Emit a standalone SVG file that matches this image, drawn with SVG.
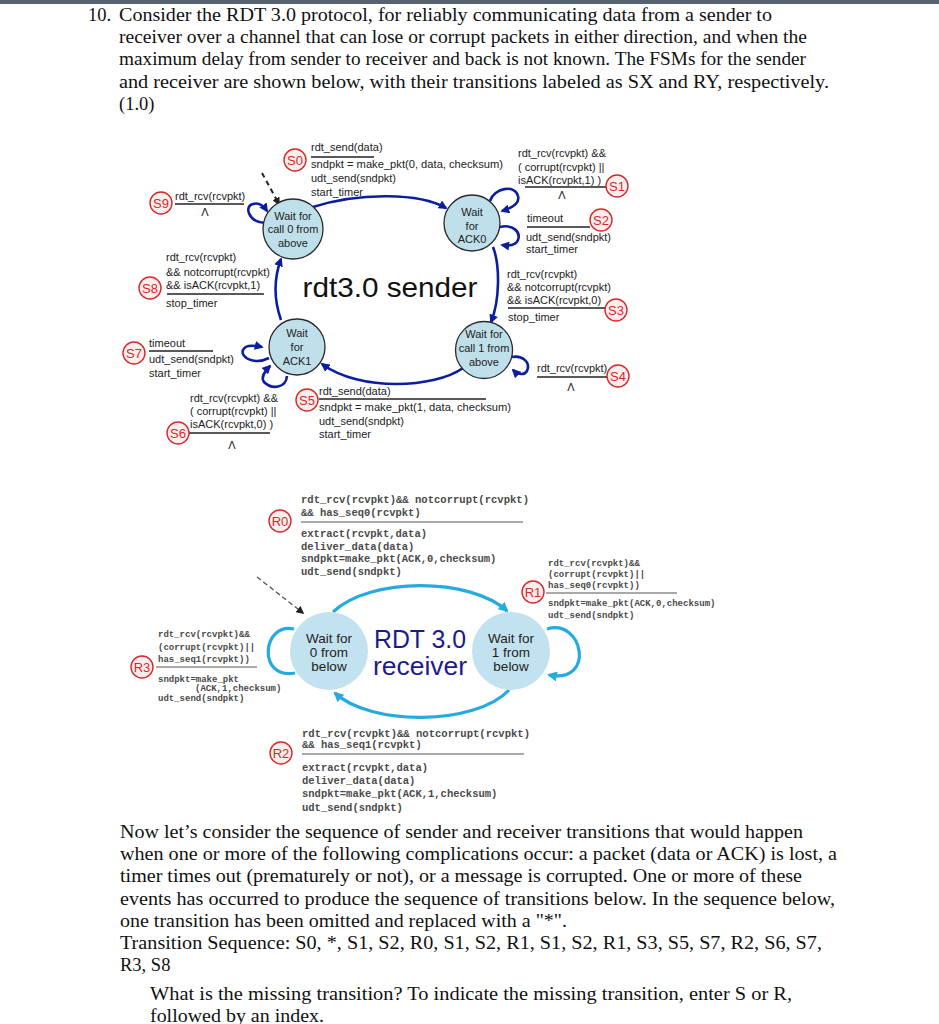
<svg xmlns="http://www.w3.org/2000/svg" width="939" height="1024" viewBox="0 0 939 1024">
<defs>
<style>
.q{font-family:"Liberation Serif","Times New Roman",serif;font-size:18.5px;fill:#111}
.s{font-family:"Liberation Sans",Arial,sans-serif;font-size:11px;fill:#222}
.sl{font-family:"Liberation Sans",Arial,sans-serif;font-size:11px;fill:#222;text-anchor:middle}
.rl{font-family:"Liberation Sans",Arial,sans-serif;font-size:13.5px;fill:#222;text-anchor:middle}
.m{font-family:"Liberation Mono","Courier New",monospace;font-size:10.5px;fill:#4a4a4a;font-weight:bold}
.m9{font-family:"Liberation Mono","Courier New",monospace;font-size:9px;fill:#4a4a4a;font-weight:bold}
.bc{fill:#fdeeee;stroke:#d42a2a;stroke-width:1.4}
.bt{font-family:"Liberation Sans",Arial,sans-serif;font-size:13px;fill:#d42a2a;text-anchor:middle}
.st{fill:#bfe0ea;stroke:#2b2b2b;stroke-width:1.3}
.rs{fill:#c3e2ef}
.sa{fill:none;stroke:#0c1ea0;stroke-width:2.6;marker-end:url(#ab)}
.ra{fill:none;stroke:#27a9e1;stroke-width:3.2;marker-end:url(#ac)}
.rn{fill:none;stroke:#27a9e1;stroke-width:3.2}
.ln{stroke:#222;stroke-width:1.3}
.lg{stroke:#555;stroke-width:1.2}
</style>
<marker id="ab" viewBox="0 0 10 10" refX="8" refY="5" markerWidth="9" markerHeight="9" markerUnits="userSpaceOnUse" orient="auto"><path d="M0,0 L10,5 L0,10 z" fill="#0c1ea0"/></marker>
<marker id="ac" viewBox="0 0 10 10" refX="8" refY="5" markerWidth="10" markerHeight="10" markerUnits="userSpaceOnUse" orient="auto"><path d="M0,0 L10,5 L0,10 z" fill="#27a9e1"/></marker>
<marker id="ad" viewBox="0 0 10 10" refX="8" refY="5" markerWidth="8" markerHeight="8" markerUnits="userSpaceOnUse" orient="auto"><path d="M0,0 L10,5 L0,10 z" fill="#222"/></marker>
</defs>
<rect x="0" y="0" width="939" height="1024" fill="#ffffff"/>
<rect x="0" y="0" width="939" height="4" fill="#566270"/>

<g id="question-top">
<text class="q" x="88" y="21">10.</text>
<text class="q" x="119" y="21" textLength="653" lengthAdjust="spacingAndGlyphs">Consider the RDT 3.0 protocol, for reliably communicating data from a sender to</text>
<text class="q" x="119" y="43" textLength="688" lengthAdjust="spacingAndGlyphs">receiver over a channel that can lose or corrupt packets in either direction, and when the</text>
<text class="q" x="119" y="65" textLength="687" lengthAdjust="spacingAndGlyphs">maximum delay from sender to receiver and back is not known. The FSMs for the sender</text>
<text class="q" x="119" y="88" textLength="710" lengthAdjust="spacingAndGlyphs">and receiver are shown below, with their transitions labeled as SX and RY, respectively.</text>
<text class="q" x="119" y="110">(1.0)</text>
</g>

<g id="connectors">
<path d="M262,173 L279,204" fill="none" stroke="#222" stroke-width="2" stroke-dasharray="5,4" marker-end="url(#ad)"/>
<path class="sa" d="M313,207 C360,192 420,193 446,208"/>
<path class="sa" d="M493,247 C500,265 500,300 491,322"/>
<path class="sa" d="M463,368 C435,388 360,392 322,364"/>
<path class="sa" d="M281,320 C274,300 274,278 281,259"/>
<path class="sa" d="M265,223 C248,222 244,206 253,204 C259,202 263,205 267,211"/>
<path class="sa" d="M490,201 C494,188 515,184 518,196 C520,203 512,208 502,211"/>
<path class="sa" d="M500,227 C513,224 521,232 518,240 C516,245 509,246 502,245"/>
<path class="sa" d="M512,357 C522,355 531,362 527,371 C524,376 517,374 513,370"/>
<path class="sa" d="M269,358 C255,365 240,358 243,350 C245,345 253,345 262,347"/>
<path class="sa" d="M287,376 C286,388 272,390 264,382 C261,378 264,372 270,366"/>
<path d="M257,577 L303,613" fill="none" stroke="#555" stroke-width="1.3" stroke-dasharray="5,3" marker-end="url(#ad)"/>
<path class="ra" d="M333,612 C370,577 470,577 507,611"/>
<path class="ra" d="M509,690 C475,726 370,726 335,693"/>
<path class="rn" d="M294,629 C262,622 257,680 295,673"/>
<path class="ra" d="M547,629 C583,618 596,684 549,675"/>
</g>

<g id="sender-states">
<g id="call0"><circle class="st" cx="293" cy="229" r="30"/><text class="sl" x="293" y="220">Wait for</text><text class="sl" x="293" y="233">call 0 from</text><text class="sl" x="293" y="247">above</text></g>
<g id="ack0"><circle class="st" cx="472" cy="223" r="28"/><text class="sl" x="472" y="216">Wait</text><text class="sl" x="472" y="230">for</text><text class="sl" x="472" y="243">ACK0</text></g>
<g id="call1"><circle class="st" cx="484" cy="350" r="28.5"/><text class="sl" x="484" y="338">Wait for</text><text class="sl" x="484" y="352">call 1 from</text><text class="sl" x="484" y="366">above</text></g>
<g id="ack1"><circle class="st" cx="297" cy="347" r="28"/><text class="sl" x="297" y="337">Wait</text><text class="sl" x="297" y="351">for</text><text class="sl" x="297" y="365">ACK1</text></g>
<text x="390" y="297" font-family="'Liberation Sans',Arial,sans-serif" font-size="28" fill="#111" text-anchor="middle" textLength="175" lengthAdjust="spacingAndGlyphs">rdt3.0 sender</text>
</g>

<g id="S0">
<circle class="bc" cx="295" cy="160" r="11"/><text class="bt" x="295" y="165">S0</text>
<text class="s" x="311" y="151">rdt_send(data)</text>
<line class="ln" x1="311" y1="157" x2="374" y2="157"/>
<text class="s" x="311" y="168" textLength="192" lengthAdjust="spacingAndGlyphs">sndpkt = make_pkt(0, data, checksum)</text>
<text class="s" x="311" y="182">udt_send(sndpkt)</text>
<text class="s" x="311" y="196">start_timer</text>
</g>
<g id="S1">
<text class="s" x="518" y="157">rdt_rcv(rcvpkt) &amp;&amp;</text>
<text class="s" x="518" y="171">( corrupt(rcvpkt) ||</text>
<text class="s" x="518" y="184">isACK(rcvpkt,1) )</text>
<line class="ln" x1="525" y1="187" x2="606" y2="187"/>
<text class="s" x="562" y="199" text-anchor="middle">Λ</text>
<circle class="bc" cx="617" cy="186" r="11"/><text class="bt" x="617" y="191">S1</text>
</g>
<g id="S2">
<text class="s" x="527" y="222">timeout</text>
<line class="ln" x1="527" y1="227" x2="590" y2="227"/>
<circle class="bc" cx="601" cy="220" r="11"/><text class="bt" x="601" y="225">S2</text>
<text class="s" x="526" y="241">udt_send(sndpkt)</text>
<text class="s" x="526" y="253">start_timer</text>
</g>
<g id="S3">
<text class="s" x="507" y="278">rdt_rcv(rcvpkt)</text>
<text class="s" x="507" y="291">&amp;&amp; notcorrupt(rcvpkt)</text>
<text class="s" x="507" y="304">&amp;&amp; isACK(rcvpkt,0)</text>
<line class="ln" x1="508" y1="308" x2="607" y2="308"/>
<circle class="bc" cx="616" cy="310" r="11"/><text class="bt" x="616" y="315">S3</text>
<text class="s" x="508" y="321">stop_timer</text>
</g>
<g id="S4">
<text class="s" x="537" y="372">rdt_rcv(rcvpkt)</text>
<line class="ln" x1="537" y1="377" x2="607" y2="377"/>
<text class="s" x="571" y="391" text-anchor="middle">Λ</text>
<circle class="bc" cx="618" cy="376" r="11"/><text class="bt" x="618" y="381">S4</text>
</g>
<g id="S5">
<circle class="bc" cx="307" cy="400" r="11"/><text class="bt" x="307" y="405">S5</text>
<text class="s" x="319" y="395">rdt_send(data)</text>
<line class="ln" x1="319" y1="399" x2="486" y2="399"/>
<text class="s" x="319" y="411" textLength="192" lengthAdjust="spacingAndGlyphs">sndpkt = make_pkt(1, data, checksum)</text>
<text class="s" x="319" y="425">udt_send(sndpkt)</text>
<text class="s" x="319" y="438">start_timer</text>
</g>
<g id="S6">
<text class="s" x="190" y="402">rdt_rcv(rcvpkt) &amp;&amp;</text>
<text class="s" x="190" y="415">( corrupt(rcvpkt) ||</text>
<text class="s" x="190" y="428">isACK(rcvpkt,0) )</text>
<line class="ln" x1="189" y1="433" x2="270" y2="433"/>
<circle class="bc" cx="178" cy="433" r="11"/><text class="bt" x="178" y="438">S6</text>
<text class="s" x="232" y="449" text-anchor="middle">Λ</text>
</g>
<g id="S7">
<circle class="bc" cx="134" cy="353" r="11"/><text class="bt" x="134" y="358">S7</text>
<text class="s" x="149" y="347">timeout</text>
<line class="ln" x1="149" y1="351" x2="213" y2="351"/>
<text class="s" x="149" y="363">udt_send(sndpkt)</text>
<text class="s" x="149" y="377">start_timer</text>
</g>
<g id="S8">
<text class="s" x="166" y="261">rdt_rcv(rcvpkt)</text>
<text class="s" x="166" y="276">&amp;&amp; notcorrupt(rcvpkt)</text>
<text class="s" x="166" y="289">&amp;&amp; isACK(rcvpkt,1)</text>
<line class="ln" x1="167" y1="294" x2="264" y2="294"/>
<circle class="bc" cx="150" cy="288" r="11"/><text class="bt" x="150" y="293">S8</text>
<text class="s" x="166" y="307">stop_timer</text>
</g>
<g id="S9">
<circle class="bc" cx="161" cy="203" r="11"/><text class="bt" x="161" y="208">S9</text>
<text class="s" x="175" y="200">rdt_rcv(rcvpkt)</text>
<line class="ln" x1="175" y1="204" x2="244" y2="204"/>
<text class="s" x="205" y="216" text-anchor="middle">Λ</text>
</g>

<g id="receiver-states">
<g id="wait0"><circle class="rs" cx="329" cy="651" r="39"/><text class="rl" x="329" y="643">Wait for</text><text class="rl" x="329" y="657">0 from</text><text class="rl" x="329" y="671">below</text></g>
<g id="wait1"><circle class="rs" cx="511" cy="651" r="39"/><text class="rl" x="511" y="643">Wait for</text><text class="rl" x="511" y="657">1 from</text><text class="rl" x="511" y="671">below</text></g>
<text x="420" y="648" font-family="'Liberation Sans',Arial,sans-serif" font-size="26" fill="#1b1b8f" text-anchor="middle" textLength="92" lengthAdjust="spacingAndGlyphs">RDT 3.0</text>
<text x="420" y="675" font-family="'Liberation Sans',Arial,sans-serif" font-size="26" fill="#1b1b8f" text-anchor="middle" textLength="94" lengthAdjust="spacingAndGlyphs">receiver</text>
</g>

<g id="R0">
<circle class="bc" cx="280" cy="521" r="11"/><text class="bt" x="280" y="526">R0</text>
<text class="m" x="301" y="503" textLength="228" lengthAdjust="spacingAndGlyphs">rdt_rcv(rcvpkt)&amp;&amp; notcorrupt(rcvpkt)</text>
<text class="m" x="301" y="516">&amp;&amp; has_seq0(rcvpkt)</text>
<line class="lg" x1="301" y1="522" x2="523" y2="522"/>
<text class="m" x="301" y="537">extract(rcvpkt,data)</text>
<text class="m" x="301" y="550">deliver_data(data)</text>
<text class="m" x="301" y="562">sndpkt=make_pkt(ACK,0,checksum)</text>
<text class="m" x="301" y="575">udt_send(sndpkt)</text>
</g>
<g id="R1">
<text class="m9" x="548" y="566">rdt_rcv(rcvpkt)&amp;&amp;</text>
<text class="m9" x="548" y="577">(corrupt(rcvpkt)||</text>
<text class="m9" x="548" y="588">has_seq0(rcvpkt))</text>
<line class="lg" x1="546" y1="593" x2="677" y2="593"/>
<circle class="bc" cx="533" cy="592" r="11"/><text class="bt" x="533" y="597">R1</text>
<text class="m9" x="548" y="606">sndpkt=make_pkt(ACK,0,checksum)</text>
<text class="m9" x="548" y="618">udt_send(sndpkt)</text>
</g>
<g id="R2">
<circle class="bc" cx="281" cy="753" r="11"/><text class="bt" x="281" y="758">R2</text>
<text class="m" x="302" y="737" textLength="228" lengthAdjust="spacingAndGlyphs">rdt_rcv(rcvpkt)&amp;&amp; notcorrupt(rcvpkt)</text>
<text class="m" x="302" y="748">&amp;&amp; has_seq1(rcvpkt)</text>
<line class="lg" x1="302" y1="754" x2="524" y2="754"/>
<text class="m" x="302" y="771">extract(rcvpkt,data)</text>
<text class="m" x="302" y="784">deliver_data(data)</text>
<text class="m" x="302" y="797">sndpkt=make_pkt(ACK,1,checksum)</text>
<text class="m" x="302" y="811">udt_send(sndpkt)</text>
</g>
<g id="R3">
<text class="m9" x="158" y="637">rdt_rcv(rcvpkt)&amp;&amp;</text>
<text class="m9" x="158" y="650">(corrupt(rcvpkt)||</text>
<text class="m9" x="158" y="662">has_seq1(rcvpkt))</text>
<line class="lg" x1="156" y1="667" x2="257" y2="667"/>
<circle class="bc" cx="142" cy="667" r="11"/><text class="bt" x="142" y="672">R3</text>
<text class="m9" x="158" y="682">sndpkt=make_pkt</text>
<text class="m9" x="195" y="691">(ACK,1,checksum)</text>
<text class="m9" x="158" y="701">udt_send(sndpkt)</text>
</g>

<g id="question-bottom">
<text class="q" x="120" y="838" textLength="683" lengthAdjust="spacingAndGlyphs">Now let’s consider the sequence of sender and receiver transitions that would happen</text>
<text class="q" x="120" y="860" textLength="717" lengthAdjust="spacingAndGlyphs">when one or more of the following complications occur: a packet (data or ACK) is lost, a</text>
<text class="q" x="120" y="882" textLength="682" lengthAdjust="spacingAndGlyphs">timer times out (prematurely or not), or a message is corrupted. One or more of these</text>
<text class="q" x="120" y="905" textLength="715" lengthAdjust="spacingAndGlyphs">events has occurred to produce the sequence of transitions below. In the sequence below,</text>
<text class="q" x="120" y="927" textLength="447" lengthAdjust="spacingAndGlyphs">one transition has been omitted and replaced with a "*".</text>
<text class="q" x="120" y="949" textLength="702" lengthAdjust="spacingAndGlyphs">Transition Sequence: S0, *, S1, S2, R0, S1, S2, R1, S1, S2, R1, S3, S5, S7, R2, S6, S7,</text>
<text class="q" x="120" y="971">R3, S8</text>
<text class="q" x="150" y="1000" textLength="642" lengthAdjust="spacingAndGlyphs">What is the missing transition? To indicate the missing transition, enter S or R,</text>
<text class="q" x="150" y="1022" textLength="174" lengthAdjust="spacingAndGlyphs">followed by an index.</text>
</g>
</svg>
